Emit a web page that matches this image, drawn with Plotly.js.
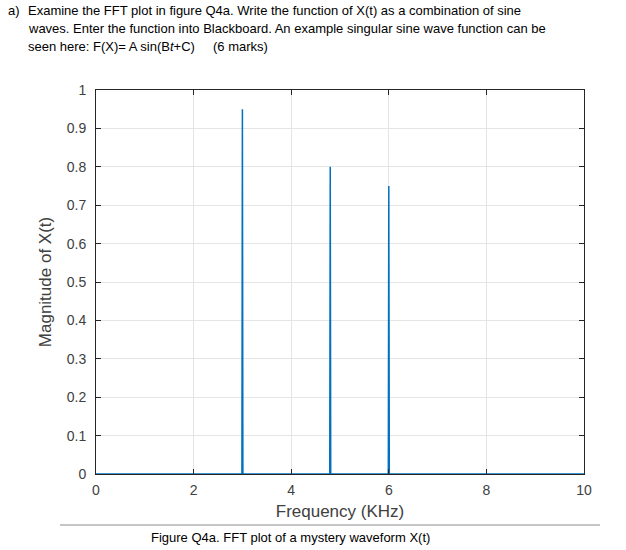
<!DOCTYPE html>
<html>
<head>
<meta charset="utf-8">
<script src="https://cdn.plot.ly/plotly-3.0.1.min.js"></script>
<style>
html,body{margin:0;padding:0;background:#fff;}
#chart{width:626px;height:550px;}
</style>
</head>
<body>
<div id="chart"></div>
<script>
// Spectrum samples (frequency in KHz, magnitude)
var freqKHz   = [0, 2.99, 3.00, 3.01, 4.79, 4.80, 4.81, 5.99, 6.00, 6.01, 10];
var magnitude = [0, 0,    0.95, 0,    0,    0.80, 0,    0,    0.75, 0,    0];

var xTicks = [0, 2, 4, 6, 8, 10];
var yTicks = [0, 0.1, 0.2, 0.3, 0.4, 0.5, 0.6, 0.7, 0.8, 0.9, 1];
var yTickText = ['0', '0.1', '0.2', '0.3', '0.4', '0.5', '0.6', '0.7', '0.8', '0.9', '1'];

var headerLines = [
  'Examine the FFT plot in figure Q4a. Write the function of X(t) as a combination of sine',
  'waves. Enter the function into Blackboard. An example singular sine wave function can be',
  'seen here: F(X)= A sin(B<i>t</i>+C)     (6 marks)'
];
var captionText = 'Figure Q4a. FFT plot of a mystery waveform X(t)';

// plot area in pixels
var W = 626, H = 550;
var L = 96, R = 584, T = 90, B = 474;
function px(x){ return (x - L) / (R - L); }
function py(y){ return (B - y) / (B - T); }

var docFont = {family: 'Liberation Sans, Arial, sans-serif', size: 13, color: '#000'};

var annotations = [
  {text: 'a)', x: px(6), y: py(11), xref: 'paper', yref: 'paper', xanchor: 'left', yanchor: 'middle', showarrow: false, font: docFont}
];
var lineY = [11, 29, 47];
for (var i = 0; i < headerLines.length; i++) {
  annotations.push({text: headerLines[i], x: px(26), y: py(lineY[i]), xref: 'paper', yref: 'paper',
    xanchor: 'left', yanchor: 'middle', showarrow: false, font: docFont});
}
annotations.push({text: captionText, x: px(290), y: py(537), xref: 'paper', yref: 'paper',
  xanchor: 'center', yanchor: 'middle', showarrow: false, font: docFont});

var axisCol = '#262626';
var trace = {
  x: freqKHz, y: magnitude, type: 'scatter', mode: 'lines',
  line: {color: '#0072BD', width: 1.5}, hoverinfo: 'none', cliponaxis: false
};

var layout = {
  width: W, height: H,
  margin: {l: L, r: W - R, t: T, b: H - B, pad: 0},
  paper_bgcolor: '#fff', plot_bgcolor: '#fff',
  showlegend: false,
  font: {family: 'Liberation Sans, Arial, sans-serif', color: '#404040'},
  xaxis: {
    range: [0, 10], tickvals: xTicks, ticktext: xTicks.map(String),
    ticks: 'inside', ticklen: 5, tickcolor: axisCol, tickwidth: 1,
    showline: true, linecolor: axisCol, linewidth: 1, mirror: 'ticks',
    showgrid: true, gridcolor: '#e5e5e5', gridwidth: 1, zeroline: false,
    tickfont: {size: 14, color: '#404040'}, ticklabelstandoff: 3,
    title: {text: 'Frequency (KHz)', font: {size: 17, color: '#404040'}, standoff: 8}
  },
  yaxis: {
    range: [0, 1], tickvals: yTicks, ticktext: yTickText,
    ticks: 'inside', ticklen: 5, tickcolor: axisCol, tickwidth: 1,
    showline: true, linecolor: axisCol, linewidth: 1, mirror: 'ticks',
    showgrid: true, gridcolor: '#e5e5e5', gridwidth: 1, zeroline: false,
    tickfont: {size: 14, color: '#404040'}, ticklabelstandoff: 6,
    title: {text: 'Magnitude of X(t)', font: {size: 17, color: '#404040'}, standoff: 10}
  },
  shapes: [
    {type: 'line', xref: 'paper', yref: 'paper', x0: px(60), x1: px(600), y0: py(525), y1: py(525),
     line: {color: '#8c8c8c', width: 1}}
  ],
  annotations: annotations
};

Plotly.newPlot('chart', [trace], layout, {displayModeBar: false, staticPlot: true});
</script>
</body>
</html>
